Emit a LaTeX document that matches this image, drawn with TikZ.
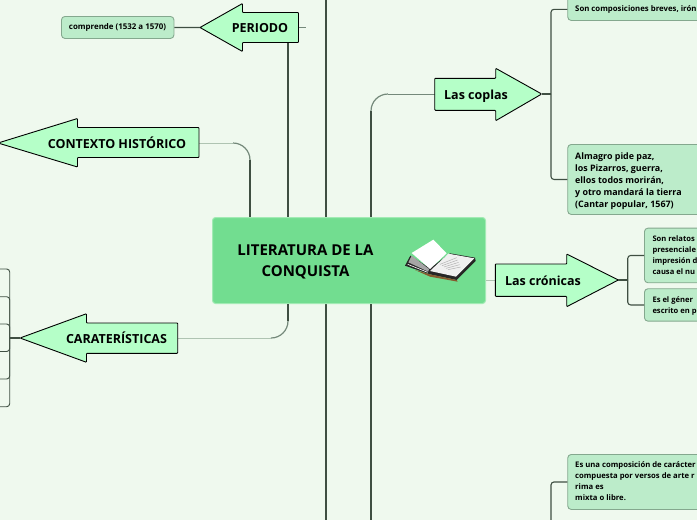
\documentclass[tikz,border=0pt]{standalone}
\usepackage{fontspec}
\setmainfont{Open Sans}
\usepackage{xcolor}
\definecolor{paper}{HTML}{EFF9EE}
\definecolor{hubGreen}{HTML}{72DD90}
\definecolor{hubEdge}{HTML}{A2EBB4}
\definecolor{topicGreen}{HTML}{B5FFC8}
\definecolor{noteGreen}{HTML}{BCECCA}
\definecolor{noteEdge}{HTML}{84A88E}
\definecolor{trunkDark}{HTML}{3F4F42}
\definecolor{stemLight}{HTML}{AFC4B2}
\definecolor{stemMid}{HTML}{74897A}

\begin{document}
\begin{tikzpicture}[x=1pt,y=1pt,
    trunk/.style={color=trunkDark,line width=1.6pt},
    stem/.style={color=stemLight,line width=1pt},
    elbow/.style={color=stemMid,line width=1.2pt},
    twig/.style={color=trunkDark,line width=1.1pt,rounded corners=3pt},
    arrowbox/.style={draw=black,line width=0.9pt,fill=topicGreen,rounded corners=0.8pt},
    topic/.style={font=\bfseries\fontsize{12.5}{15}\selectfont,text=black,inner sep=0pt,text height=9pt,text depth=0pt},
    hubbox/.style={draw=hubEdge,line width=1pt,fill=hubGreen,rounded corners=3pt,minimum width=273pt,minimum height=86pt,inner sep=0pt},
    notebox/.style={draw=noteEdge,line width=0.9pt,fill=noteGreen,rounded corners=3.5pt,inner sep=0pt,anchor=north west},
    notetext/.style={font=\bfseries\fontsize{#1}{11}\selectfont,text=black,inner sep=0pt,anchor=north west,align=left},
    notetext/.default=7.7
]
    \useasboundingbox (0,0) rectangle (697,-520);
    \clip (0,0) rectangle (697,-520);
    \fill[paper] (0,0) rectangle (697,-520);

    % draw central box
    \coordinate (hubA) at (326,0);
    \coordinate (hubB) at (326,-520);
    \draw[trunk] (hubA) -- (hubB);
    \node[hubbox] (conquista) at (349,-260.5) {};

    % draw periodo
    \coordinate (periodoFoot) at (288,-42.5);
    \coordinate (periodoStub) at (306,-27.5);
    \draw[trunk] (periodoFoot) -- (periodoFoot |- conquista.north);
    \draw[arrowbox] (200,-27.5) coordinate (periodoTip) -- (242.5,-3.5) -- (242.5,-12.5) -- (298.5,-12.5) -- (298.5,-42.5) -- (242.5,-42.5) -- (242.5,-51.5) -- cycle;
    \coordinate (periodoTail) at (298.5,-27.5);
    \draw[stem,color=stemMid] (periodoTail) -- (periodoStub);
    \node[topic] (periodo) at (260,-27.5) {PERIODO};
    \node[notebox,minimum width=112.5pt,minimum height=22pt] (comprende) at (61,-16) {};
    \node[notetext=7.9,anchor=center] (comprendeText) at (117.5,-27) {comprende (1532 a 1570)};
    \draw[twig] (comprende.east) -- (periodoTip);

    % draw contexto
    \coordinate (contextoTail) at (199,-143);
    \coordinate (contextoBendA) at (233,-143);
    \coordinate (contextoBendB) at (250,-160);
    \draw[stem] (contextoTail) -- (contextoBendA);
    \draw[elbow] (contextoBendA) arc[start angle=90,end angle=0,radius=17pt];
    \draw[trunk] (contextoBendB) -- (contextoBendB |- conquista.north);
    \draw[arrowbox] (-2,-143) -- (77.5,-118.5) -- (77.5,-127.5) -- (199,-127.5) -- (199,-157.5) -- (77.5,-157.5) -- (77.5,-167) -- cycle;
    \node[topic] (contexto) at (117,-143.5) {CONTEXTO HISTÓRICO};

    % draw caracteristicas
    \coordinate (caratTail) at (177.7,-338);
    \coordinate (caratBendA) at (271,-338);
    \coordinate (caratBendB) at (288,-321);
    \draw[stem] (caratTail) -- (caratBendA);
    \draw[elbow] (caratBendA) arc[start angle=270,end angle=360,radius=17pt];
    \draw[trunk] (caratBendB) -- (caratBendB |- conquista.south);
    \draw[arrowbox] (20,-338) coordinate (caratTip) -- (86.5,-313.7) -- (86.5,-323) -- (177.7,-323) -- (177.7,-353.3) -- (86.5,-353.3) -- (86.5,-362.3) -- cycle;
    \node[topic] (carat) at (116.5,-338.7) {CARATERÍSTICAS};
    \coordinate (caratHub) at (9.7,-338);
    \draw[trunk] (caratTip) -- (caratHub);
    \foreach \y in {269,296.7,324,351.5,379,406.7}
        \draw[twig,line width=0.9pt] (caratHub) |- (-3,-\y);

    % draw coplas
    \coordinate (coplasBendA) at (388,-94);
    \coordinate (coplasBendB) at (371,-111);
    \coordinate (coplasTail) at (434.7,-94);
    \draw[stem,color=stemMid] (coplasTail) -- (coplasBendA);
    \draw[elbow] (coplasBendA) arc[start angle=90,end angle=180,radius=17pt];
    \draw[trunk] (coplasBendB) -- (coplasBendB |- conquista.north);
    \draw[trunk] (coplasBendB |- conquista.south) -- (coplasBendB |- hubB);
    \draw[arrowbox] (434.7,-78.3) -- (495.7,-78.3) -- (495.7,-68.3) -- (541.7,-94) coordinate (coplasTip) -- (495.7,-120.7) -- (495.7,-110.3) -- (434.7,-110.3) -- cycle;
    \node[topic] (coplas) at (476,-95) {Las coplas};
    \node[notebox,minimum width=150pt,minimum height=40pt] (breves) at (567.3,20) {};
    \node[notetext=7.8,anchor=west] (brevesText) at (575,-9.3) {Son composiciones breves, irón};
    \node[notebox,minimum width=150pt,minimum height=70pt] (almagro) at (567.3,-144) {};
    \node[notetext=8.9,font=\bfseries\fontsize{8.9}{12}\selectfont] (almagroText) at (575,-152.5) {Almagro pide paz,\\los Pizarros, guerra,\\ellos todos morirán,\\y otro mandará la tierra\\(Cantar popular, 1567)};
    \coordinate (coplasHub) at (551,-94);
    \draw[trunk,line width=1.2pt] (coplasTip) -- (coplasHub);
    \draw[twig] (coplasHub) |- (breves.west |- brevesText);
    \draw[twig] (coplasHub) |- (almagro.west);

    % draw cronicas
    \draw[stem] (conquista.east |- 0,-280) -- (495.3,-280);
    \draw[arrowbox] (495.3,-264) -- (566.7,-264) -- (566.7,-254) -- (618.3,-280) coordinate (cronicasTip) -- (566.7,-306.7) -- (566.7,-296.3) -- (495.3,-296.3) -- cycle;
    \node[topic] (cronicas) at (543,-280.5) {Las crónicas};
    \node[notebox,minimum width=100pt,minimum height=54.6pt] (relatos) at (644,-227.7) {};
    \node[notebox,minimum width=100pt,minimum height=32.4pt] (genero) at (644,-288.3) {};
    \node[notetext=7.6] (relatosText) at (652.3,-236) {Son relatos\\presenciale\\impresión d\\causa el nu};
    \node[notetext=7.6] (generoText) at (652.3,-296) {Es el géner\\escrito en p};
    \coordinate (cronicasHub) at (627.7,-280);
    \draw[trunk,line width=1.2pt] (cronicasTip) -- (cronicasHub);
    \draw[twig] (cronicasHub) |- (relatos.west);
    \draw[twig] (cronicasHub) |- (genero.west);

    % draw poem note
    \node[notebox,minimum width=150pt,minimum height=55pt] (poema) at (567.3,-454) {};
    \node[notetext] (poemaText) at (575,-461.7) {Es una composición de carácter\\compuesta por versos de arte r\\rima es\\mixta o libre.};
    \coordinate (poemaHub) at (551,-530);
    \draw[twig] (poemaHub) |- (poema.west);

    % draw title and book
    \node[inner sep=0pt,text=black,align=center,font=\bfseries\fontsize{15}{21}\selectfont] (titulo) at (305.5,-262) {LITERATURA DE LA\\CONQUISTA};
    \begin{scope}[shift={(395,-225)},x=0.3333pt,y=-0.3333pt]
        \fill[black!85] (30,122) -- (46,92) -- (105,130) -- (165,85) -- (240,98) -- (242,108) -- (185,165) -- (105,148) -- cycle;
        \fill[brown!70!black] (60,135) -- (105,148) -- (185,165) -- (188,170) -- (105,155) -- cycle;
        \fill[black!35] (40,112) -- (50,92) -- (102,132) -- (100,140) -- cycle;
        \draw[white,line width=0.6pt] (38,118) -- (98,142);
        \fill[white] (50,84) -- (115,44) -- (155,85) -- (105,132) -- cycle;
        \fill[white!94!black] (105,138) -- (160,86) -- (238,100) -- (183,155) -- cycle;
        \foreach \s in {0,1,2,3,4}
            \draw[black!30,line width=0.5pt] (135+\s*6,118+\s*4) -- (185+\s*3,98+\s*7);
    \end{scope}
\end{tikzpicture}
\end{document}
